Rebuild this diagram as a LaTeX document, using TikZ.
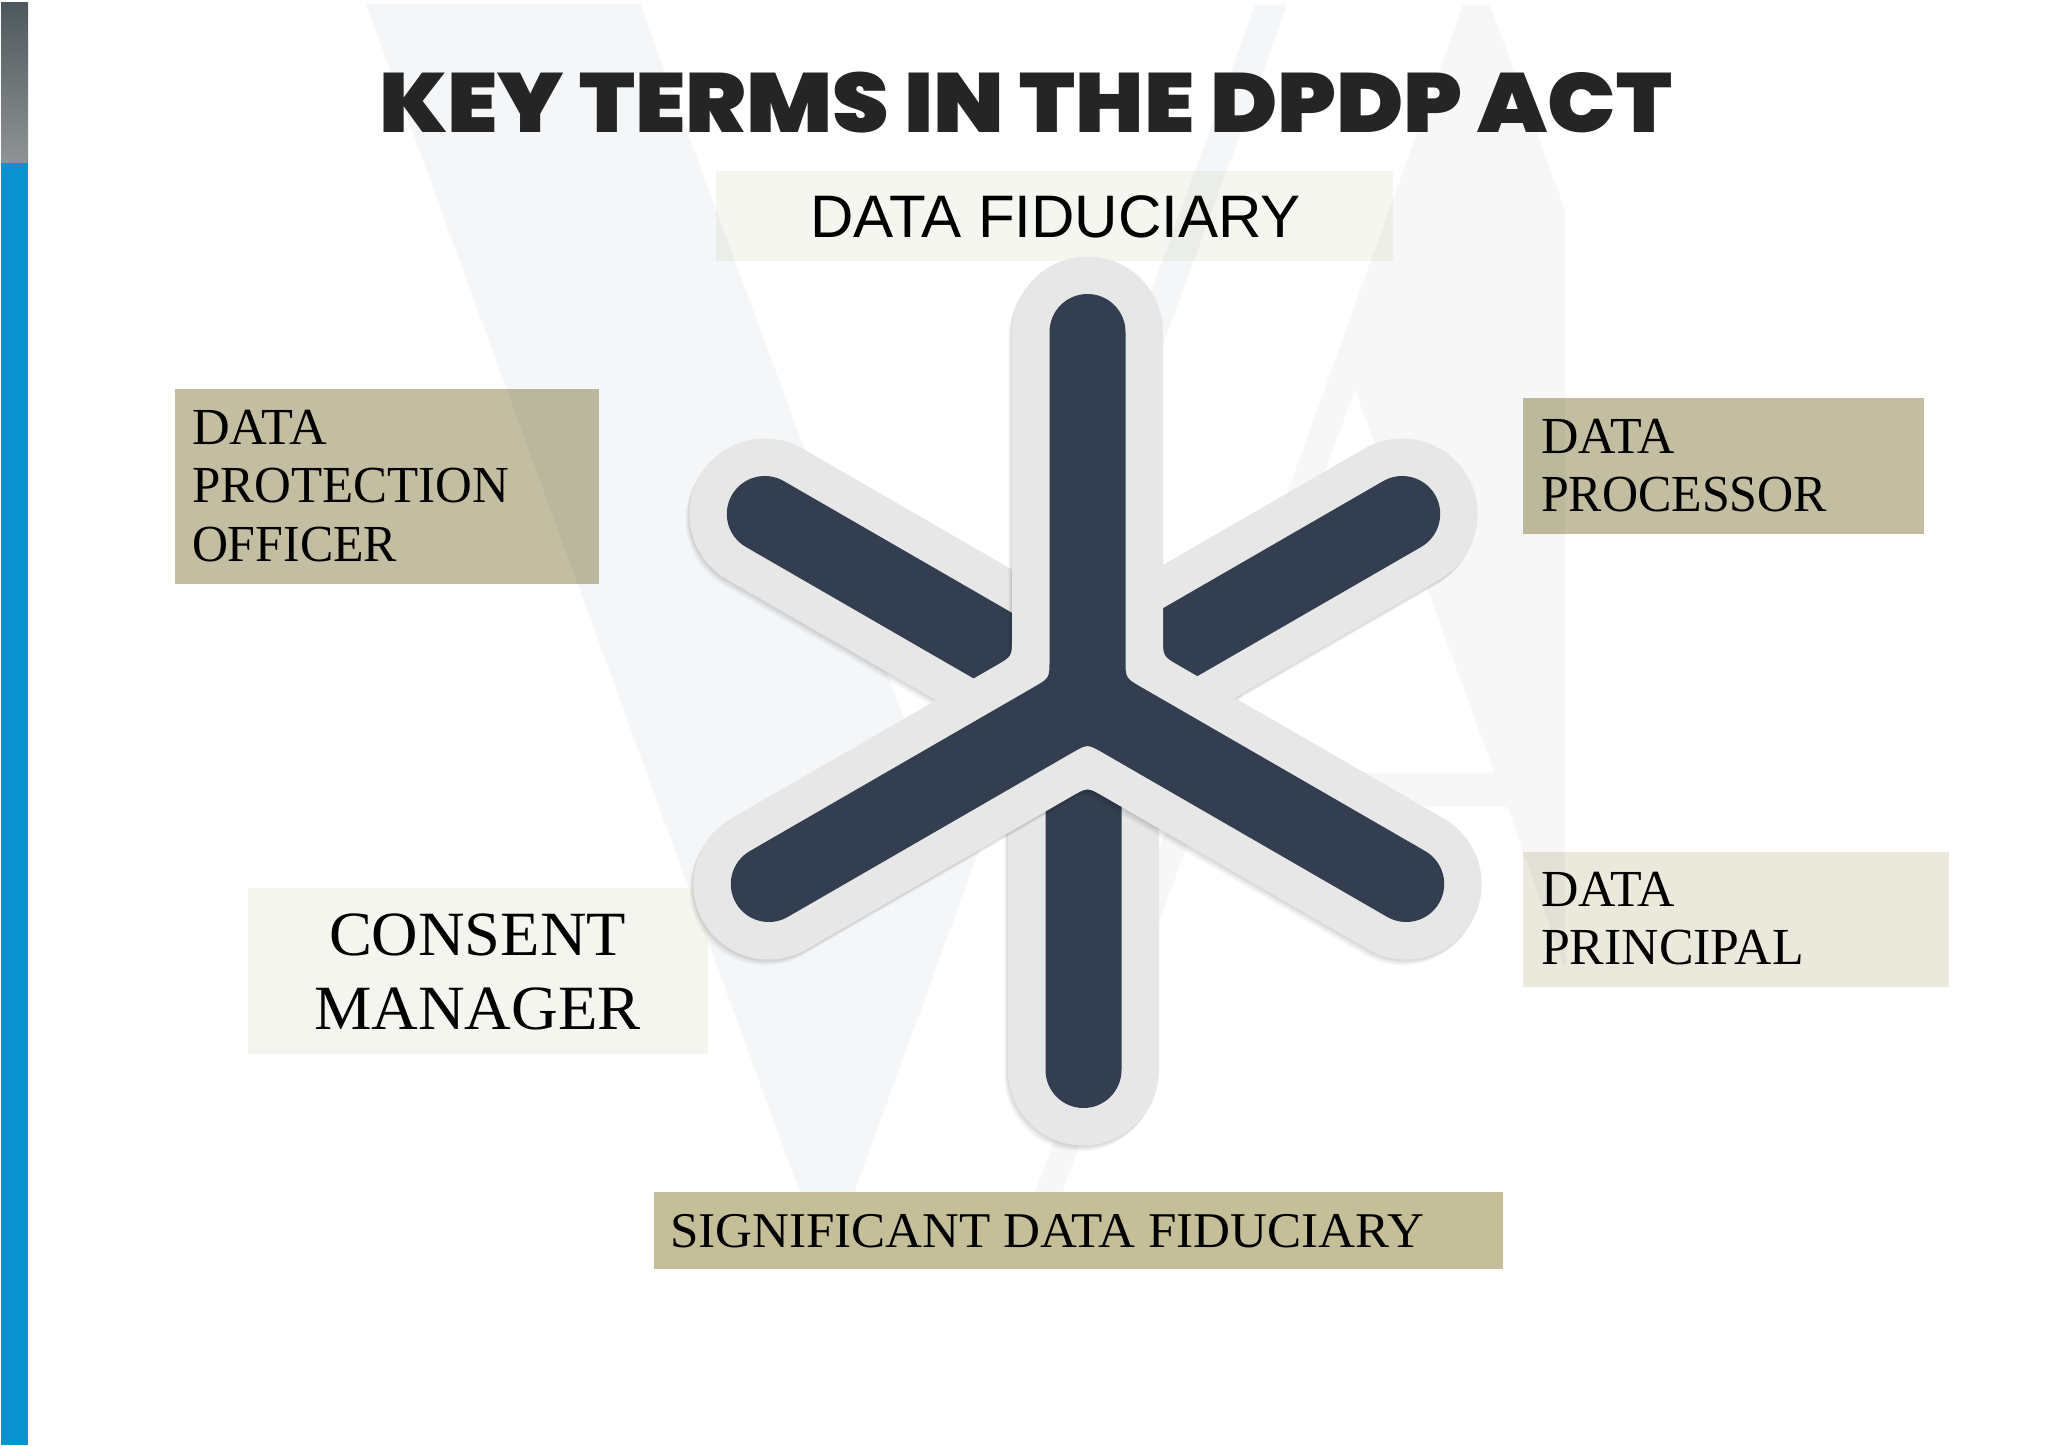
\documentclass[tikz,border=0pt]{standalone}
\usepackage{fontspec}
\usepackage{graphicx}
\setmainfont{Liberation Serif}
\newfontfamily\arialf{Liberation Sans}
\newfontfamily\titlef{Poppins Black}
\definecolor{wmv}{HTML}{F4F6F8}
\definecolor{wma}{HTML}{F7F7F7}
\definecolor{tan1}{HTML}{C3BEA1}
\definecolor{tan2}{HTML}{C4BE99}
\definecolor{cream1}{HTML}{F6F6F0}
\definecolor{cream2}{HTML}{EBE9DC}
\definecolor{cream3}{HTML}{F5F5EF}
\definecolor{halo}{HTML}{E7E7E7}
\definecolor{slate}{HTML}{333F50}
\definecolor{barblue}{HTML}{0A93CF}
\definecolor{bargrayA}{HTML}{4E585C}
\definecolor{bargrayB}{HTML}{8F9394}
\definecolor{ttl}{HTML}{252525}
\tikzset{
  boxnode/.style={draw=none,inner sep=0pt,outer sep=0pt,anchor=north west},
  tintbox/.style={boxnode,blend mode=multiply},
  lbl/.style={inner sep=0pt,outer sep=0pt,text=black,align=left,anchor=base west},
}
\newcommand{\fitw}[2]{\resizebox{#1pt}{\height}{#2}}
% Y-shaped blade: cx, cy, rotation, half-width, corner tangent length, fill options
\newcommand{\yblade}[7]{%
  \begin{scope}[shift={(#1,#2)},yscale=-1,rotate=#3]
    \pgfmathsetmacro{\W}{#4}\pgfmathsetmacro{\T}{#5}\pgfmathsetmacro{\Ln}{368}\pgfmathsetmacro{\Lt}{#7}
    \pgfmathsetmacro{\cc}{0.866025}\pgfmathsetmacro{\vy}{0.57735*\W}
    \pgfmathsetmacro{\Ex}{\cc*\Ln}\pgfmathsetmacro{\Ey}{-0.5*\Ln}
    \pgfmathsetmacro{\nx}{0.5*\W}\pgfmathsetmacro{\ny}{\cc*\W}
    \pgfmathsetmacro{\tx}{\cc*\T}\pgfmathsetmacro{\ty}{0.5*\T}
    \pgfmathsetmacro{\vb}{-1.1547*\W}
    \path[#6] (-\W,\Lt) arc[start angle=180,end angle=0,radius=\W]
      -- (\W,\vy+\T) .. controls (\W,\vy) .. (\W+\tx,\vy-\ty)
      -- (\Ex+\nx,\Ey+\ny) arc[start angle=60,end angle=-120,radius=\W]
      -- (\tx,\vb-\ty) .. controls (0,\vb) .. (-\tx,\vb-\ty)
      -- (-\Ex+\nx,\Ey-\ny) arc[start angle=-60,end angle=-240,radius=\W]
      -- (-\W-\tx,\vy-\ty) .. controls (-\W,\vy) .. (-\W,\vy+\T) -- cycle;
  \end{scope}}
\newcommand{\fullblade}[4]{%
  \yblade{#1-4}{#2+6}{#3}{75.5}{18}{fill=black,opacity=0.025}{#4}
  \yblade{#1-3}{#2+5}{#3}{75.5}{18}{fill=black,opacity=0.03}{#4}
  \yblade{#1-2}{#2+3.5}{#3}{75.5}{18}{fill=black,opacity=0.04}{#4}
  \yblade{#1-1}{#2+2}{#3}{75.5}{18}{fill=black,opacity=0.05}{#4}
  \yblade{#1}{#2}{#3}{75.5}{18}{fill=halo}{#4}
  \yblade{#1}{#2}{#3}{38}{18}{fill=slate}{#4}}
\begin{document}
\begin{tikzpicture}[x=1pt,y=-1pt]
\useasboundingbox (0,0) rectangle (2048,1447);
\fill[white] (0,0) rectangle (2048,1447);
% side bar
\shade[top color=bargrayA,bottom color=bargrayB] (1,3) rectangle (28,163);
\fill[barblue] (1,163) rectangle (28,1445);
% watermark
\fill[wma,even odd rule] (1463,5) -- (1490,5) -- (1565,210) -- (1565,968) -- (1523,852) -- (1510,813)
   .. controls (1507,806) .. (1500,806) -- (1201,806) -- (1035,1268) -- (1008,1268) -- cycle
   (1355,390) -- (1492,766) .. controls (1494,773) .. (1488,773) -- (1213,773) -- cycle;
\fill[wmv] (366,4) -- (640,4) -- (951,846) -- (1255,5) -- (1287,5) -- (827,1267) -- cycle;
% boxes
\node[tintbox,fill=cream1,minimum width=677pt,minimum height=90pt] (bfid) at (716,171) {};
\node[tintbox,fill=tan1,minimum width=424pt,minimum height=195pt] (bdpo) at (174.5,389) {};
\node[tintbox,fill=tan1,minimum width=401pt,minimum height=136pt] (bproc) at (1523,398) {};
\node[tintbox,fill=cream2,minimum width=426pt,minimum height=135pt] (bprin) at (1523,852) {};
\node[boxnode,fill=cream3,minimum width=460pt,minimum height=166pt] (bcons) at (248,888) {};
\node[boxnode,fill=tan2,minimum width=849pt,minimum height=77pt] (bsig) at (654,1191.5) {};
% star
\fullblade{1083.5}{698}{180}{372}
\fullblade{1087.5}{700}{0}{368}
% texts
\node[inner sep=0pt,outer sep=0pt,anchor=base west,text=ttl] (title) at (379,132.5)
  {\fitw{1293}{\titlef\fontsize{84}{84}\selectfont KEY TERMS IN THE DPDP ACT}};
\node[lbl] (tfid) at (810,238) {\fitw{491}{\arialf\fontsize{60}{60}\selectfont DATA FIDUCIARY}};
\node[lbl] (tdpo1) at (192,444) {\fitw{135}{\fontsize{52}{52}\selectfont DATA}};
\node[lbl] (tdpo2) at (192,502) {\fitw{317}{\fontsize{52}{52}\selectfont PROTECTION}};
\node[lbl] (tdpo3) at (192,561) {\fitw{205}{\fontsize{52}{52}\selectfont OFFICER}};
\node[lbl] (tproc1) at (1541,453) {\fitw{134}{\fontsize{52}{52}\selectfont DATA}};
\node[lbl] (tproc2) at (1541,511) {\fitw{286}{\fontsize{52}{52}\selectfont PROCESSOR}};
\node[lbl] (tprin1) at (1541,906.5) {\fitw{134}{\fontsize{52}{52}\selectfont DATA}};
\node[lbl] (tprin2) at (1541,964.5) {\fitw{263}{\fontsize{52}{52}\selectfont PRINCIPAL}};
\node[lbl] (tcons1) at (329,955) {\fitw{297}{\fontsize{63}{63}\selectfont CONSENT}};
\node[lbl] (tcons2) at (314,1029) {\fitw{327}{\fontsize{63}{63}\selectfont MANAGER}};
\node[lbl] (tsig) at (670,1247) {\fitw{754}{\fontsize{50}{50}\selectfont SIGNIFICANT DATA FIDUCIARY}};
\end{tikzpicture}
\end{document}
